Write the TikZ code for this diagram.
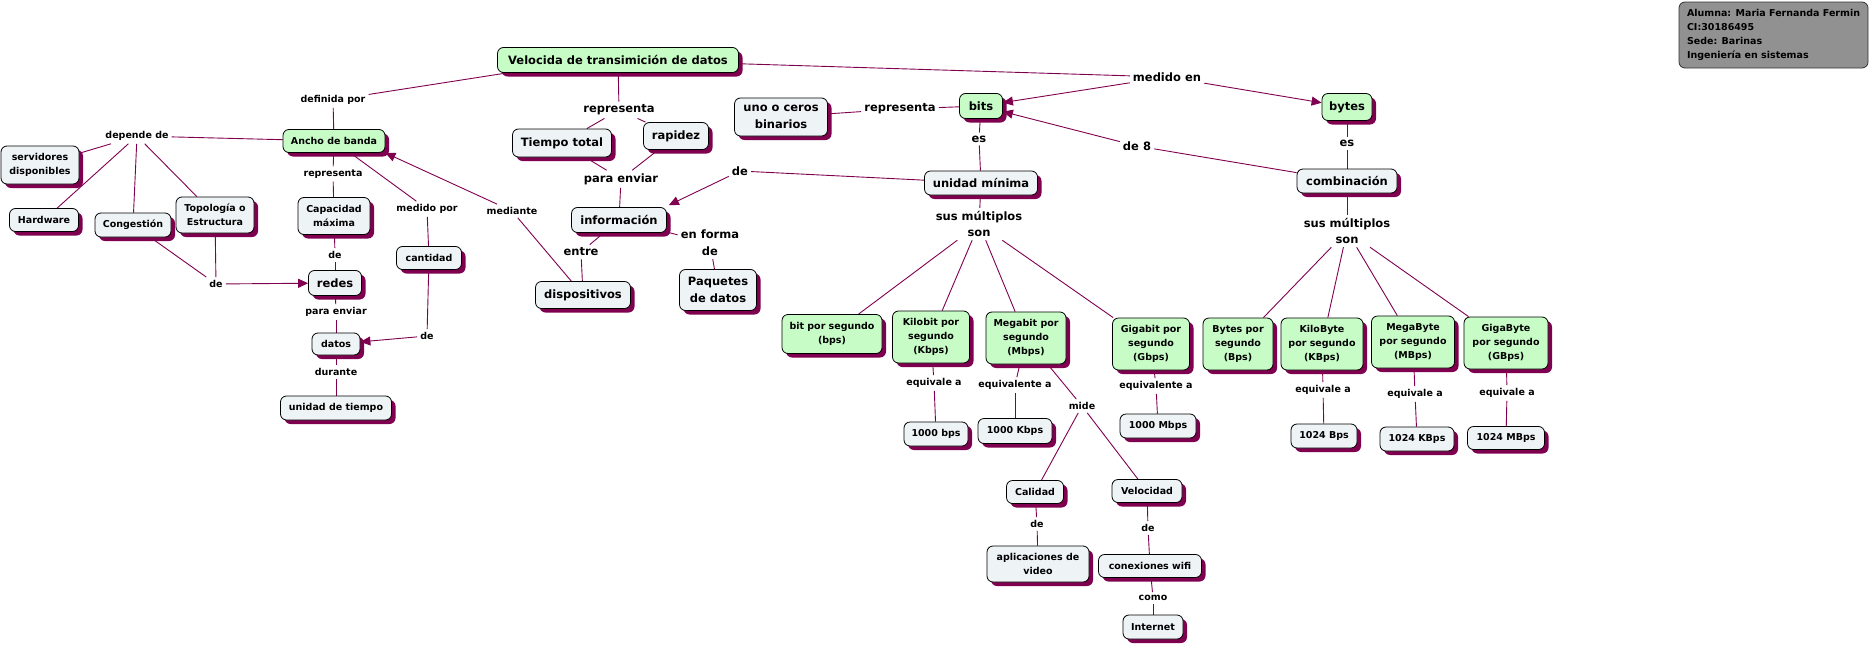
\documentclass[tikz,border=0pt]{standalone}
\usepackage{fontspec}
\setmainfont{DejaVu Sans}
\usetikzlibrary{shadows,arrows.meta}
\definecolor{plum}{RGB}{128,0,80}
\definecolor{lt}{RGB}{238,243,245}
\definecolor{gr}{RGB}{199,252,199}
\definecolor{infog}{RGB}{145,145,145}
\newcommand\fsm{\fontsize{9.5}{14}\selectfont\bfseries}
\newcommand\flg{\fontsize{11.5}{16.7}\selectfont\bfseries}
\pgfdeclarelayer{bg}
\pgfsetlayers{bg,main}
\tikzset{
  box/.style={draw=black, line width=0.8pt, rounded corners=6pt, fill=lt, align=center, inner sep=2pt,
    drop shadow={shadow xshift=4pt, shadow yshift=-4pt, fill=plum, opacity=1}},
  S/.style={box, font=\fsm},
  L/.style={box, font=\flg},
  SG/.style={S, fill=gr},
  LG/.style={L, fill=gr},
  wh/.style 2 args={minimum width=#1pt, minimum height=#2pt},
  lab/.style={font=\fsm, inner sep=3pt, align=center},
  llab/.style={font=\flg, inner sep=3pt, align=center},
  ln/.style={draw=plum, line width=0.9pt},
  arr/.style={ln, -{Triangle[length=10pt,width=9pt]}},
}
\begin{document}
\begin{tikzpicture}[x=1pt,y=-1pt]
\useasboundingbox (0,0) rectangle (1871,645);
% ---- concept boxes ----
\node[S, wh={78}{38}] (serv) at (40,165) {servidores\\disponibles};
\node[S, wh={69}{23}] (hard) at (44,220) {Hardware};
\node[S, wh={76}{24}] (cong) at (133,225) {Congestión};
\node[S, wh={78}{36}] (topo) at (215,215) {Topología o\\Estructura};
\node[SG, wh={102}{23}] (ancho) at (334,141) {Ancho de banda};
\node[S, wh={72}{37}] (capa) at (334,216) {Capacidad\\máxima};
\node[L, wh={53}{25}] (redes) at (335,283) {redes};
\node[S, wh={48}{22}] (datos) at (336,344) {datos};
\node[S, wh={111}{24}] (utiempo) at (336,408) {unidad de tiempo};
\node[S, wh={65}{23}] (cant) at (429,258) {cantidad};
\node[LG, wh={241}{25}] (velo) at (618,60) {Velocida de transimición de datos};
\node[L, wh={99}{28}] (tiempo) at (562,143) {Tiempo total};
\node[L, wh={65}{27}] (rapidez) at (676,136) {rapidez};
\node[L, wh={95}{25}] (info) at (619,220) {información};
\node[L, wh={95}{27}] (disp) at (583,295) {dispositivos};
\node[L, wh={77}{41}] (paq) at (718,290) {Paquetes\\de datos};
\node[L, wh={93}{38}] (uno) at (781,117) {uno o ceros\\binarios};
\node[LG, wh={43}{25}] (bits) at (981,106) {bits};
\node[LG, wh={50}{27}] (bytes) at (1347,107) {bytes};
\node[L, wh={113}{24}] (umin) at (981,183) {unidad mínima};
\node[L, wh={100}{24}] (comb) at (1347,181) {combinación};
\node[SG, wh={100}{39}] (bps) at (832,334) {bit por segundo\\(bps)};
\node[SG, wh={77}{52}] (kbps) at (931,337) {Kilobit por\\segundo\\(Kbps)};
\node[SG, wh={80}{52}] (mbps) at (1026,338) {Megabit por\\segundo\\(Mbps)};
\node[SG, wh={77}{52}] (gbps) at (1151,344) {Gigabit por\\segundo\\(Gbps)};
\node[SG, wh={70}{52}] (Bps) at (1238,344) {Bytes por\\segundo\\(Bps)};
\node[SG, wh={82}{52}] (KBps) at (1322,344) {KiloByte\\por segundo\\(KBps)};
\node[SG, wh={83}{52}] (MBps) at (1413,342) {MegaByte\\por segundo\\(MBps)};
\node[SG, wh={84}{52}] (GBps) at (1506,343) {GigaByte\\por segundo\\(GBps)};
\node[S, wh={64}{24}] (e1) at (936,434) {1000 bps};
\node[S, wh={74}{25}] (e2) at (1015,431) {1000 Kbps};
\node[S, wh={76}{24}] (e3) at (1158,426) {1000 Mbps};
\node[S, wh={66}{24}] (f1) at (1324,436) {1024 Bps};
\node[S, wh={74}{24}] (f2) at (1417,439) {1024 KBps};
\node[S, wh={77}{23}] (f3) at (1506,438) {1024 MBps};
\node[S, wh={57}{23}] (cal) at (1035,492) {Calidad};
\node[S, wh={70}{23}] (vel) at (1147,491) {Velocidad};
\node[S, wh={102}{36}] (apps) at (1038,564) {aplicaciones de\\video};
\node[S, wh={103}{23}] (wifi) at (1150,566) {conexiones wifi};
\node[S, wh={60}{24}] (inet) at (1153,627) {Internet};
\node[draw=black!80, line width=0.8pt, rounded corners=6pt, fill=infog, font=\fsm, align=left, inner sep=2pt, wh={189}{66}] (alumna) at (1773.5,35)
  {Alumna: Maria Fernanda Fermin\\CI:30186495\\Sede: Barinas\\Ingeniería en sistemas};
% ---- linking phrases ----
\node[lab] (defin) at (333,100) {definida por};
\node[lab] (dep) at (137,136) {depende de};
\node[lab] (rep1) at (333,174) {representa};
\node[lab] (de1) at (335,255) {de};
\node[lab] (de2) at (216,284) {de};
\node[lab] (pe1) at (336,312) {para enviar};
\node[lab] (dur) at (336,372) {durante};
\node[lab] (medpor) at (427,209) {medido por};
\node[lab] (medi) at (512,211) {mediante};
\node[lab] (de3) at (427,336) {de};
\node[llab] (rep2) at (619,110) {representa};
\node[llab] (pe2) at (621,179) {para enviar};
\node[llab] (entre) at (581,252) {entre};
\node[llab] (enf) at (710,243) {en forma\\de};
\node[llab] (de4) at (740,171) {de};
\node[llab] (rep3) at (900,109) {representa};
\node[llab] (es1) at (979,139) {es};
\node[llab] (sms1) at (979,224) {sus múltiplos\\son};
\node[llab] (meden) at (1167,77) {medido en};
\node[llab] (de8) at (1137,146) {de 8};
\node[llab] (es2) at (1347,143) {es};
\node[llab] (sms2) at (1347,231) {sus múltiplos\\son};
\node[lab] (eq1) at (934,383) {equivale a};
\node[lab] (eq2) at (1015,385) {equivalente a};
\node[lab] (mide) at (1082,406) {mide};
\node[lab] (eq3) at (1156,386) {equivalente a};
\node[lab] (eq4) at (1323,390) {equivale a};
\node[lab] (eq5) at (1415,394) {equivale a};
\node[lab] (eq6) at (1507,393) {equivale a};
\node[lab] (de5) at (1037,524) {de};
\node[lab] (de6) at (1148,528) {de};
\node[lab] (como) at (1153,598) {como};
% ---- connectors ----
\begin{pgfonlayer}{bg}
\draw[ln] ([xshift=10pt]velo.south west) -- (defin);
\draw[ln] (defin) -- (ancho);
\draw[ln] (ancho) -- (dep);
\draw[ln] (dep) -- (serv);
\draw[ln] (dep) -- (hard);
\draw[ln] (dep) -- (cong);
\draw[ln] (dep) -- (topo);
\draw[ln] (ancho) -- (rep1);
\draw[ln] (rep1) -- (capa);
\draw[ln] (capa) -- (de1);
\draw[ln] (de1) -- (redes);
\draw[ln] (cong) -- (de2);
\draw[ln] (topo) -- (de2);
\draw[arr] (de2) -- (redes);
\draw[ln] (redes) -- (pe1);
\draw[ln] (pe1) -- (datos);
\draw[ln] (datos) -- (dur);
\draw[ln] (dur) -- (utiempo);
\draw[ln] (ancho) -- (medpor);
\draw[ln] (medpor) -- (cant);
\draw[ln] (cant) -- (de3);
\draw[arr] (de3) -- (datos);
\draw[ln] (disp) -- (medi);
\draw[arr] (medi) -- (ancho.south east);
\draw[ln] (velo) -- (rep2);
\draw[ln] (rep2) -- (tiempo);
\draw[ln] (rep2) -- (rapidez);
\draw[ln] (tiempo) -- (pe2);
\draw[ln] (rapidez) -- (pe2);
\draw[ln] (pe2) -- (info);
\draw[ln] (info) -- (entre);
\draw[ln] (entre) -- (disp);
\draw[ln] (info) -- (enf);
\draw[ln] (enf) -- (paq);
\draw[ln] (velo) -- (meden);
\draw[arr] (meden) -- (bits);
\draw[arr] (meden) -- (bytes);
\draw[ln] (bits) -- (rep3);
\draw[ln] (rep3) -- (uno);
\draw[ln] (bits) -- (es1);
\draw[ln] (es1) -- (umin);
\draw[ln] (umin) -- (de4);
\draw[arr] (de4) -- ([shift={(2,-2)}]info.north east);
\draw[ln] (comb) -- (de8);
\draw[arr] (de8) -- (bits);
\draw[ln] (bytes) -- (es2);
\draw[ln] (es2) -- (comb);
\draw[ln] (umin) -- (sms1);
\foreach \t in {bps,kbps,mbps,gbps} \draw[ln] (sms1) -- (\t);
\draw[ln] (comb) -- (sms2);
\foreach \t in {Bps,KBps,MBps,GBps} \draw[ln] (sms2) -- (\t);
\draw[ln] (kbps) -- (eq1);
\draw[ln] (eq1) -- (e1);
\draw[ln] (mbps) -- (eq2);
\draw[ln] (eq2) -- (e2);
\draw[ln] (gbps) -- (eq3);
\draw[ln] (eq3) -- (e3);
\draw[ln] (KBps) -- (eq4);
\draw[ln] (eq4) -- (f1);
\draw[ln] (MBps) -- (eq5);
\draw[ln] (eq5) -- (f2);
\draw[ln] (GBps) -- (eq6);
\draw[ln] (eq6) -- (f3);
\draw[ln] (mbps) -- (mide);
\draw[ln] (mide) -- (cal);
\draw[ln] (mide) -- (vel);
\draw[ln] (cal) -- (de5);
\draw[ln] (de5) -- (apps);
\draw[ln] (vel) -- (de6);
\draw[ln] (de6) -- (wifi);
\draw[ln] (wifi) -- (como);
\draw[ln] (como) -- (inet);
\end{pgfonlayer}
\end{tikzpicture}
\end{document}
